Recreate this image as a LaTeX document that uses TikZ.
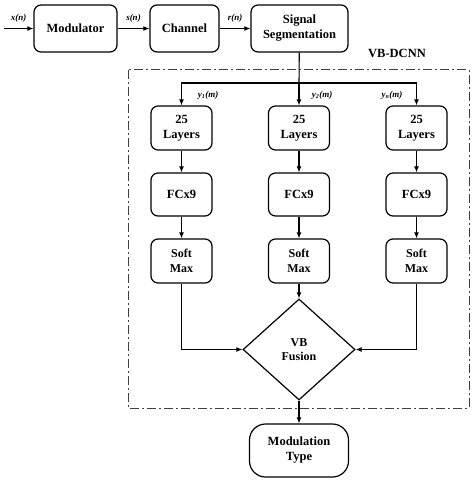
\documentclass[tikz,border=0pt]{standalone}
\usepackage{fontspec}
\setmainfont{Liberation Serif}
\usepackage{tikz}
\usetikzlibrary{arrows.meta,shapes.geometric}
\tikzset{
  blk/.style={draw, line width=1.2pt, rounded corners=7pt, align=center, inner sep=0pt,
    font=\bfseries\fontsize{12.5}{15}\selectfont},
  smallblk/.style={blk, font=\bfseries\fontsize{12}{14.5}\selectfont},
  fusion/.style={draw, diamond, line width=1.2pt, inner sep=0pt, align=center,
    minimum width=112pt, minimum height=101pt, font=\bfseries\fontsize{12}{14.5}\selectfont},
  term/.style={blk, rounded corners=16pt, minimum width=99pt, minimum height=53pt},
  line/.style={draw, line width=1.1pt},
  arr/.style={line, -{Latex[length=6pt,width=5pt]}},
  dashbox/.style={draw=black!75, line width=1pt, dash pattern=on 9pt off 3pt on 2pt off 3pt},
  lbl/.style={font=\bfseries\itshape\fontsize{9}{10}\selectfont},
  title/.style={font=\bfseries\fontsize{12.5}{15}\selectfont}
}
\begin{document}
\begin{tikzpicture}[x=1pt,y=-1pt]
  \useasboundingbox (0,0) rectangle (474,484);

  % transmitter chain
  \coordinate (in) at (4,28.5);
  \node[blk, minimum width=83pt, minimum height=47pt] (mod) at (75.5,28.5) {Modulator};
  \node[blk, minimum width=69pt, minimum height=47pt] (chan) at (184.5,28.5) {Channel};
  \node[blk, minimum width=97pt, minimum height=47pt] (seg) at (299.5,28.5) {Signal\\Segmentation};

  \draw[arr] (in) -- node[lbl, above=2pt] {x(n)} (mod);
  \draw[arr] (mod) -- node[lbl, above=2pt] {s(n)} (chan);
  \draw[arr] (chan) -- node[lbl, above=2pt] {r(n)} (seg);

  % VB-DCNN frame
  \draw[dashbox] (128,70) rectangle (469,408);
  \node[title] (vbname) at (397,53) {VB-DCNN};

  % three branches
  \node[blk, minimum width=61pt, minimum height=44pt] (lay1) at (181.5,128) {25\\Layers};
  \node[blk, minimum width=61pt, minimum height=44pt] (lay2) at (299,128) {25\\Layers};
  \node[blk, minimum width=61pt, minimum height=44pt] (lay3) at (416.5,128) {25\\Layers};

  \node[blk, minimum width=61pt, minimum height=43pt] (fc1) at (181.5,194.5) {FCx9};
  \node[blk, minimum width=61pt, minimum height=43pt] (fc2) at (299,194.5) {FCx9};
  \node[blk, minimum width=61pt, minimum height=43pt] (fc3) at (416.5,194.5) {FCx9};

  \node[smallblk, minimum width=61pt, minimum height=44pt] (sm1) at (181.5,261) {Soft\\Max};
  \node[smallblk, minimum width=61pt, minimum height=44pt] (sm2) at (299,261) {Soft\\Max};
  \node[smallblk, minimum width=61pt, minimum height=44pt] (sm3) at (416.5,261) {Soft\\Max};

  \node[fusion] (vb) at (299,349.5) {VB\\Fusion};
  \node[term] (type) at (299,450.5) {Modulation\\Type};

  \coordinate (split) at (299,83);
  \draw[line] (seg) -- (split);
  \draw[arr] (split) -| (lay1);
  \draw[arr] (split) -- (lay2);
  \draw[arr] (split) -| (lay3);

  \node[lbl] (y1) at (208,95) {y\textsubscript{1}(m)};
  \node[lbl] (y2) at (322,95) {y\textsubscript{2}(m)};
  \node[lbl] (yn) at (392,95) {y\textsubscript{n}(m)};

  \foreach \i in {1,2,3} {
    \draw[arr] (lay\i) -- (fc\i);
    \draw[arr] (fc\i) -- (sm\i);
  }

  \draw[arr] (sm1) |- (vb);
  \draw[arr] (sm2) -- (vb);
  \draw[arr] (sm3) |- (vb);
  \draw[arr] (vb) -- (type);
\end{tikzpicture}
\end{document}
